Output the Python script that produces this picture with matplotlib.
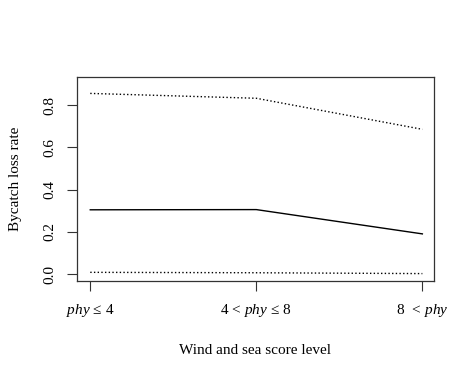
import matplotlib
matplotlib.use("Agg")
import matplotlib.pyplot as plt

# values
levels = [1, 2, 3]
level_labels = [r'$phy \,\leq\, 4$', r'$4 \,<\, phy \,\leq\, 8$', r'$8 \;\;<\, phy$']
upper = [0.855, 0.832, 0.685]
mean_rate = [0.304, 0.305, 0.19]
lower = [0.008, 0.006, 0.002]

plt.rcParams['font.family'] = ['Liberation Serif', 'DejaVu Serif']
plt.rcParams['mathtext.fontset'] = 'custom'
plt.rcParams['mathtext.rm'] = 'Liberation Serif'
plt.rcParams['mathtext.it'] = 'Liberation Serif:italic'

fig = plt.figure(figsize=(4.74, 3.79), dpi=100)
ax = fig.add_axes([0.1624, 0.2586, 0.7532, 0.5384])

ax.plot(levels, upper, ls=':', color='black', lw=1.0)
ax.plot(levels, mean_rate, ls='-', color='black', lw=1.0)
ax.plot(levels, lower, ls=':', color='black', lw=1.0)

ax.set_xlim(0.92, 3.07)
ax.set_ylim(-0.033, 0.933)
ax.set_xticks(levels)
ax.set_xticklabels(level_labels, fontsize=11)
ax.set_yticks([0.0, 0.2, 0.4, 0.6, 0.8])
ax.set_yticklabels(['0.0', '0.2', '0.4', '0.6', '0.8'], rotation=90, va='center', fontsize=11)
ax.tick_params(direction='out', length=7, width=0.8, color='#333333', pad=8)

for s in ax.spines.values():
    s.set_linewidth(0.9)
    s.set_color('#333333')

ax.set_xlabel('Wind and sea score level', fontsize=11, labelpad=18)
ax.set_ylabel('Bycatch loss rate', fontsize=11, labelpad=15)

plt.savefig('out.png', dpi=100)
